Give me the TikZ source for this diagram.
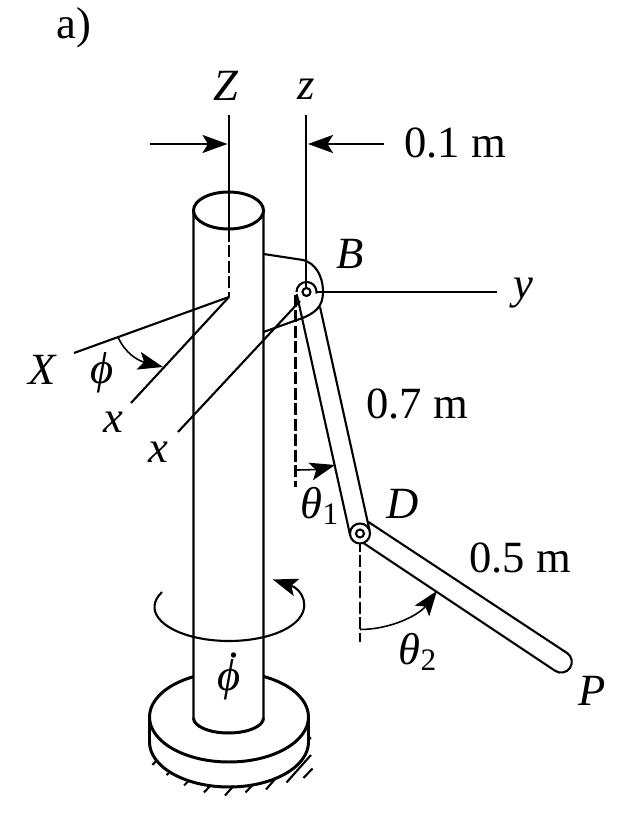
\documentclass[tikz,border=0pt]{standalone}
\usepackage{fontspec}
\setmainfont{Liberation Serif}
\usetikzlibrary{arrows.meta}
\tikzset{
  lab/.style={font=\fontsize{25.4}{30}\selectfont},
  itlab/.style={font=\fontsize{25.4}{30}\selectfont\itshape},
  thinline/.style={line width=1.2pt},
  thickline/.style={line width=1.7pt},
  hidden/.style={line width=1.2pt, dash pattern=on 6.8pt off 2pt},
  headtip/.style={-{Stealth[length=0.5cm,width=0.36cm,inset=0.11cm]}}
}
\begin{document}
\begin{tikzpicture}
\useasboundingbox (0,0) rectangle (12.54,16.26);
\coordinate (cross) at (4.58,10.32);
\coordinate (b) at (6.13,10.42);
\coordinate (d) at (7.2,5.59);
% base
\draw[thickline] (2.99,1.92)--(2.99,1.42) arc[x radius=1.59,y radius=0.9,start angle=180,end angle=360]--(6.17,1.92);
\draw[thickline] (4.58,1.92) ellipse (1.59 and 0.9);
\foreach \xa/\ya/\xb/\yb in {3.05/0.96/3.13/1.05, 3.33/0.76/3.39/0.81, 3.68/0.55/3.77/0.64, 4.08/0.41/4.21/0.55, 4.50/0.35/4.67/0.54, 4.91/0.41/5.04/0.55, 5.32/0.47/5.51/0.69, 5.73/0.61/6.22/1.16, 6.07/0.70/6.25/0.89, 6.15/1.45/6.22/1.51}
  \draw[thinline] (\xa,\ya)--(\xb,\yb);
% column
\filldraw[fill=white,thinline] (3.87,12.05)--(3.87,1.9) arc[x radius=0.7,y radius=0.3,start angle=180,end angle=360]--(5.27,12.05);
\draw[thickline] (3.87,1.9) arc[x radius=0.7,y radius=0.3,start angle=180,end angle=360];
\draw[thickline,fill=white] (4.57,12.05) ellipse (0.7 and 0.37);
% axes
\draw[thinline] (4.58,13.96)--(4.58,11.66);
\draw[hidden] (4.58,11.66)--(cross);
\draw[thinline] (cross)--(1.48,9.2);
\draw[thinline] (cross)--(2.62,8.2);
\draw[thinline] (6,10.24)--(3.56,7.62);
\draw[thinline] (6.12,13.96)--(6.12,10.42);
\draw[thinline] (6.32,10.42)--(9.94,10.42);
\draw[hidden] (5.91,10.36)--(5.91,6.52);
\draw[hidden] (7.2,5.46)--(7.2,3.42);
% dimension arrows
\draw[thinline,headtip] (3,13.38)--(4.55,13.38);
\draw[thinline,headtip] (7.68,13.38)--(6.16,13.38);
% bracket
\draw[thinline] (5.27,11.18)--(6.06,11.06) .. controls (6.3,11) and (6.46,10.75) .. (6.46,10.42) .. controls (6.46,10.12) and (6.3,9.98) .. (5.94,9.86)--(5.27,9.62);
% links
\draw[thinline] (5.935,10.376)--(7.005,5.546);
\draw[thinline] (6.4,10.12)--(7.395,5.634);
\draw[thinline] (7.36,5.826)--(11.34,3.2) arc[start angle=56.6,end angle=-123.4,radius=0.214]--(7.2,5.446);
\draw[thinline] (5.93,10.42) arc[start angle=180,end angle=-10,radius=0.2];
\draw[thinline,fill=white] (b) circle (0.08);
\draw[thinline,fill=white] (d) circle (0.2);
\draw[thinline,fill=white] (d) circle (0.08);
% angles
\draw[line width=0.9pt,headtip] (2.36,9.52) .. controls (2.5,9.2) and (2.75,9.05) .. (3.26,8.92);
\draw[line width=0.9pt,headtip] (5.91,6.86) .. controls (6.2,6.86) and (6.4,6.88) .. (6.7,6.96);
\draw[line width=0.9pt,headtip] (d) ++(270:1.92) arc[start angle=270,end angle=323.3,radius=1.92];
\draw[thinline,headtip] (4.58,4.12) ++(154:1.49 and 0.68) arc[x radius=1.49,y radius=0.68,start angle=154,end angle=414];
% labels
\node[lab] (parta) at (1.48,15.7) {a)};
\node[itlab] (lZ) at (4.52,14.54) {Z};
\node[itlab] (lz) at (6.12,14.48) {z};
\node[lab] (dist) at (9.1,13.4) {0.1 m};
\node[itlab] (lB) at (7,11.18) {B};
\node[itlab] (ly) at (10.46,10.4) {y};
\node[itlab] (lX) at (0.84,8.86) {X};
\node[itlab] (lphi) at (2.04,8.8) {ϕ};
\node[itlab] (lxa) at (2.26,7.82) {x};
\node[itlab] (lxb) at (3.16,7.22) {x};
\node[lab] (lenbd) at (8.34,8.18) {0.7 m};
\node[itlab] (lta) at (6.4,6.14) {θ\textsubscript{\upshape 1}};
\node[itlab] (lD) at (8.06,6.18) {D};
\node[lab] (lendp) at (10.4,5.1) {0.5 m};
\node[itlab] (ltb) at (8.36,3.22) {θ\textsubscript{\upshape 2}};
\node[itlab] (lP) at (11.84,2.44) {P};
\node[itlab] (lrate) at (4.58,2.74) {ϕ\llap{\raisebox{0.74em}{.}}};
\end{tikzpicture}
\end{document}
